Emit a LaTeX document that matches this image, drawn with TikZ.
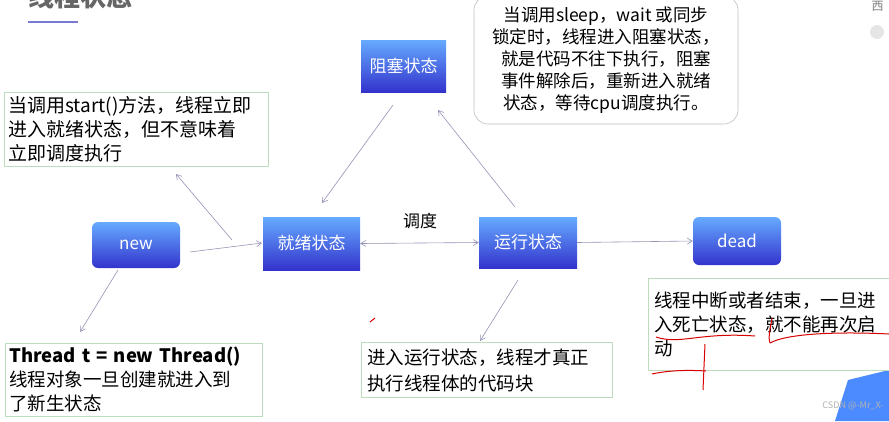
\documentclass[tikz,border=0pt]{standalone}
\usepackage{fontspec}
\setmainfont{Noto Sans CJK SC}
\usetikzlibrary{arrows.meta}
\begin{document}
\begin{tikzpicture}[x=1pt,y=-1pt,
 st/.style={draw=none,top color=blue!55!cyan!60!white,bottom color=blue!75!black!80,text=white,font=\fontsize{17}{19}\selectfont,inner sep=0pt},
 note/.style={draw=green!30!gray!40,line width=0.8pt,fill=white,align=left,font=\fontsize{18.5}{24}\selectfont,inner sep=4pt,anchor=north west},
 con/.style={draw=blue!20!gray!70,line width=0.6pt},
 tip/.style={-{Straight Barb[length=5pt,width=6pt]}},
 red/.style={draw=red!85!black,line width=1pt}]
\useasboundingbox (0,0) rectangle (889,421);
\fill[white] (0,0) rectangle (889,421);
\begin{scope}
\clip (0,0) rectangle (889,421);
\node[font=\fontsize{26}{28}\selectfont\bfseries,text=gray!80!black,anchor=west] (title) at (25,-4) {线程状态};
\node[font=\fontsize{12}{14}\selectfont,text=gray,anchor=west] (xi) at (868,6) {西};
\end{scope}
\draw[blue!50!gray!70,line width=2pt] (28,22) -- (78,22);
\fill[gray!20] (877,32) circle (7);
\fill[blue!65!cyan!70] (835,421) -- (848,380) -- (889,370) -- (889,421) -- cycle;

\node[st,minimum width=85pt,minimum height=52pt] (blk) at (403.5,66) {阻塞状态};
\node[st,minimum width=97pt,minimum height=53pt] (rdy) at (311.5,243.5) {就绪状态};
\node[st,minimum width=98pt,minimum height=51pt] (run) at (528,242.5) {运行状态};
\node[st,rounded corners=6pt,minimum width=88pt,minimum height=46pt] (new) at (136,245) {new};
\node[st,rounded corners=6pt,minimum width=88pt,minimum height=48pt] (dead) at (737,241) {dead};

\node[draw=gray!50,rounded corners=14pt,line width=0.6pt,fill=white,align=center,font=\fontsize{17.5}{22}\selectfont,minimum width=264pt,minimum height=128pt] (top) at (606,60)
 {当调用sleep，wait 或同步\\锁定时，线程进入阻塞状态，\\就是代码不往下执行，阻塞\\事件解除后，重新进入就绪\\状态，等待cpu调度执行。};

\node[note,text width=256pt,font=\fontsize{19}{24}\selectfont] (n1) at (4,92) {当调用start()方法，线程立即\\进入就绪状态，但不意味着\\立即调度执行};
\node[note,text width=249pt] (n2) at (5,343) {\textbf{Thread t = new Thread()}\\线程对象一旦创建就进入到\\了新生状态};
\node[note,text width=239pt,font=\fontsize{18.5}{26}\selectfont,inner sep=6pt] (n3) at (361,342) {进入运行状态，线程才真正\\执行线程体的代码块};
\node[note,text width=229pt,minimum height=92pt,inner sep=6pt] (n4) at (648,278) {线程中断或者结束，一旦进\\入死亡状态，就不能再次启\\动};

\node[font=\fontsize{17}{19}\selectfont] (sched) at (420,221) {调度};
\node[font=\fontsize{9}{11}\selectfont,text=gray!60] (csdn) at (853,406) {CSDN @-Mr\_X-};

\coordinate (a1) at (190,252); \coordinate (a2) at (262,243);
\draw[con,tip] (a1) -- (a2);
\draw[con,{Straight Barb[length=5pt,width=6pt]}-{Straight Barb[length=5pt,width=6pt]}] (rdy.east) -- (run.west);
\draw[con,tip] (run.east) -- (dead.west);
\coordinate (b1) at (393,105); \coordinate (b2) at (322,203);
\draw[con,tip] (b1) -- (b2);
\coordinate (c1) at (515,207); \coordinate (c2) at (438,110);
\draw[con,tip] (c1) -- (c2);
\coordinate (d1) at (232,240); \coordinate (d2) at (176,174);
\draw[con,tip] (d1) -- (d2);
\coordinate (e1) at (118,270); \coordinate (e2) at (80,332);
\draw[con,tip] (e1) -- (e2);
\coordinate (f1) at (518,280); \coordinate (f2) at (480,341);
\draw[con,tip] (f1) -- (f2);

\draw[red] (656,337) .. controls (680,345) and (700,332) .. (755,336);
\draw[red] (772,318) .. controls (770,330) and (768,338) .. (770,343);
\draw[red] (770,343) .. controls (790,332) and (850,332) .. (889,334);
\draw[red] (652,374) .. controls (670,370) and (690,370) .. (706,371);
\draw[red] (705,344) -- (703,390);
\draw[red] (370,322) -- (375,318);
\end{tikzpicture}
\end{document}
